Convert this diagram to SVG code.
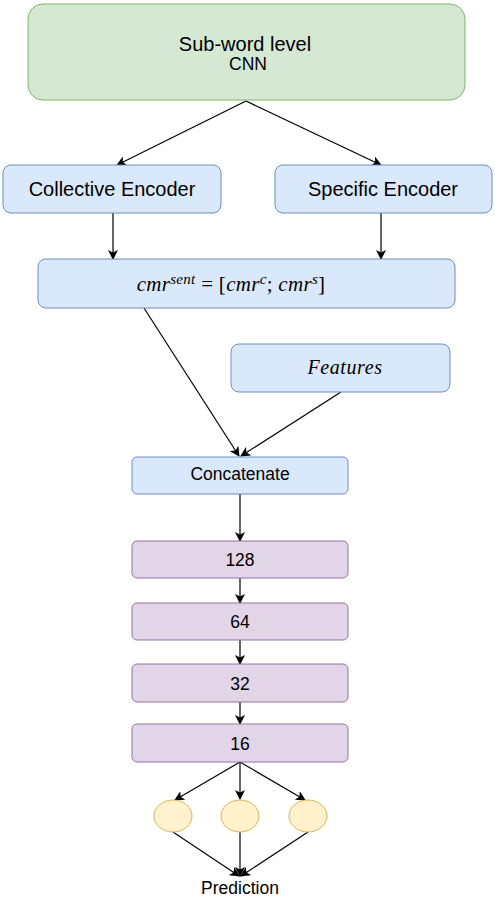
<svg xmlns="http://www.w3.org/2000/svg" width="495" height="904" viewBox="0 0 495 904">
<defs>
<marker id="ah" viewBox="0 0 10 10" refX="9" refY="5" markerWidth="10" markerHeight="10" markerUnits="userSpaceOnUse" orient="auto">
<path d="M0,0 L10,5 L0,10 L2.5,5 z" fill="#000"/>
</marker>
<style>
.g{fill:#d5e8d4;stroke:#82b366;stroke-width:1}
.b{fill:#dae8fc;stroke:#6c8ebf;stroke-width:1}
.p{fill:#e1d5e7;stroke:#9673a6;stroke-width:1}
.y{fill:#fff2cc;stroke:#d6b656;stroke-width:1}
.t{font-family:"Liberation Sans",Arial,sans-serif;fill:#000;text-anchor:middle}
.m{font-family:"Liberation Serif","Times New Roman",serif;font-style:italic;fill:#000;text-anchor:middle}
.c{stroke:#000;stroke-width:1.2;fill:none;marker-end:url(#ah)}
</style>
</defs>
<rect width="495" height="904" fill="#fff"/>
<g id="connectors">
<line class="c" x1="246" y1="101" x2="117" y2="165"/>
<line class="c" x1="246" y1="101" x2="381" y2="165"/>
<line class="c" x1="113" y1="213" x2="113" y2="259"/>
<line class="c" x1="381" y1="213" x2="381" y2="259"/>
<line class="c" x1="144" y1="308" x2="239" y2="456"/>
<line class="c" x1="341" y1="392" x2="241" y2="456"/>
<line class="c" x1="240" y1="494" x2="240" y2="541"/>
<line class="c" x1="240" y1="578" x2="240" y2="603"/>
<line class="c" x1="240" y1="640" x2="240" y2="664"/>
<line class="c" x1="240" y1="702" x2="240" y2="724"/>
<line class="c" x1="240" y1="762" x2="175" y2="800"/>
<line class="c" x1="240" y1="762" x2="240" y2="799"/>
<line class="c" x1="240" y1="762" x2="305" y2="800"/>
<line class="c" x1="173" y1="832" x2="239" y2="876"/>
<line class="c" x1="240" y1="832" x2="240" y2="876"/>
<line class="c" x1="308" y1="832" x2="241" y2="876"/>
</g>
<g id="cnn">
<rect class="g" x="28" y="4" width="437" height="96" rx="15"/>
<text class="t" x="245" y="51" font-size="20">Sub-word level</text>
<text class="t" x="248" y="70" font-size="17.5">CNN</text>
</g>
<g id="collective">
<rect class="b" x="3" y="165" width="218" height="48" rx="8"/>
<text class="t" x="112" y="196" font-size="20">Collective Encoder</text>
</g>
<g id="specific">
<rect class="b" x="275" y="165" width="217" height="48" rx="8"/>
<text class="t" x="383" y="196" font-size="20">Specific Encoder</text>
</g>
<g id="cmr">
<rect class="b" x="38" y="259" width="417" height="49" rx="8"/>
<text class="m" x="231" y="291" font-size="21" letter-spacing="0.3">cmr<tspan font-size="15" dy="-7">sent</tspan><tspan dy="7" font-style="normal"> = [</tspan>cmr<tspan font-size="15" dy="-7">c</tspan><tspan dy="7" font-style="normal">; </tspan>cmr<tspan font-size="15" dy="-7">s</tspan><tspan dy="7" font-style="normal">]</tspan></text>
</g>
<g id="features">
<rect class="b" x="231" y="344" width="219" height="48" rx="8"/>
<text class="m" x="345" y="374" font-size="20" letter-spacing="0.6">Features</text>
</g>
<g id="concatenate">
<rect class="b" x="132" y="457" width="216" height="37" rx="5"/>
<text class="t" x="240" y="480" font-size="17.5">Concatenate</text>
</g>
<g id="l128">
<rect class="p" x="132" y="541" width="216" height="37" rx="5"/>
<text class="t" x="240" y="566" font-size="17.5">128</text>
</g>
<g id="l64">
<rect class="p" x="132" y="603" width="216" height="37" rx="5"/>
<text class="t" x="240" y="628" font-size="17.5">64</text>
</g>
<g id="l32">
<rect class="p" x="132" y="664" width="216" height="38" rx="5"/>
<text class="t" x="240" y="690" font-size="17.5">32</text>
</g>
<g id="l16">
<rect class="p" x="132" y="724" width="216" height="38" rx="5"/>
<text class="t" x="240" y="750" font-size="17.5">16</text>
</g>
<g id="o1"><ellipse class="y" cx="173" cy="816" rx="19" ry="16"/></g>
<g id="o2"><ellipse class="y" cx="240" cy="816" rx="19" ry="16"/></g>
<g id="o3"><ellipse class="y" cx="308" cy="816" rx="19" ry="16"/></g>
<g id="prediction">
<text class="t" x="240" y="894" font-size="17.5">Prediction</text>
</g>
</svg>
